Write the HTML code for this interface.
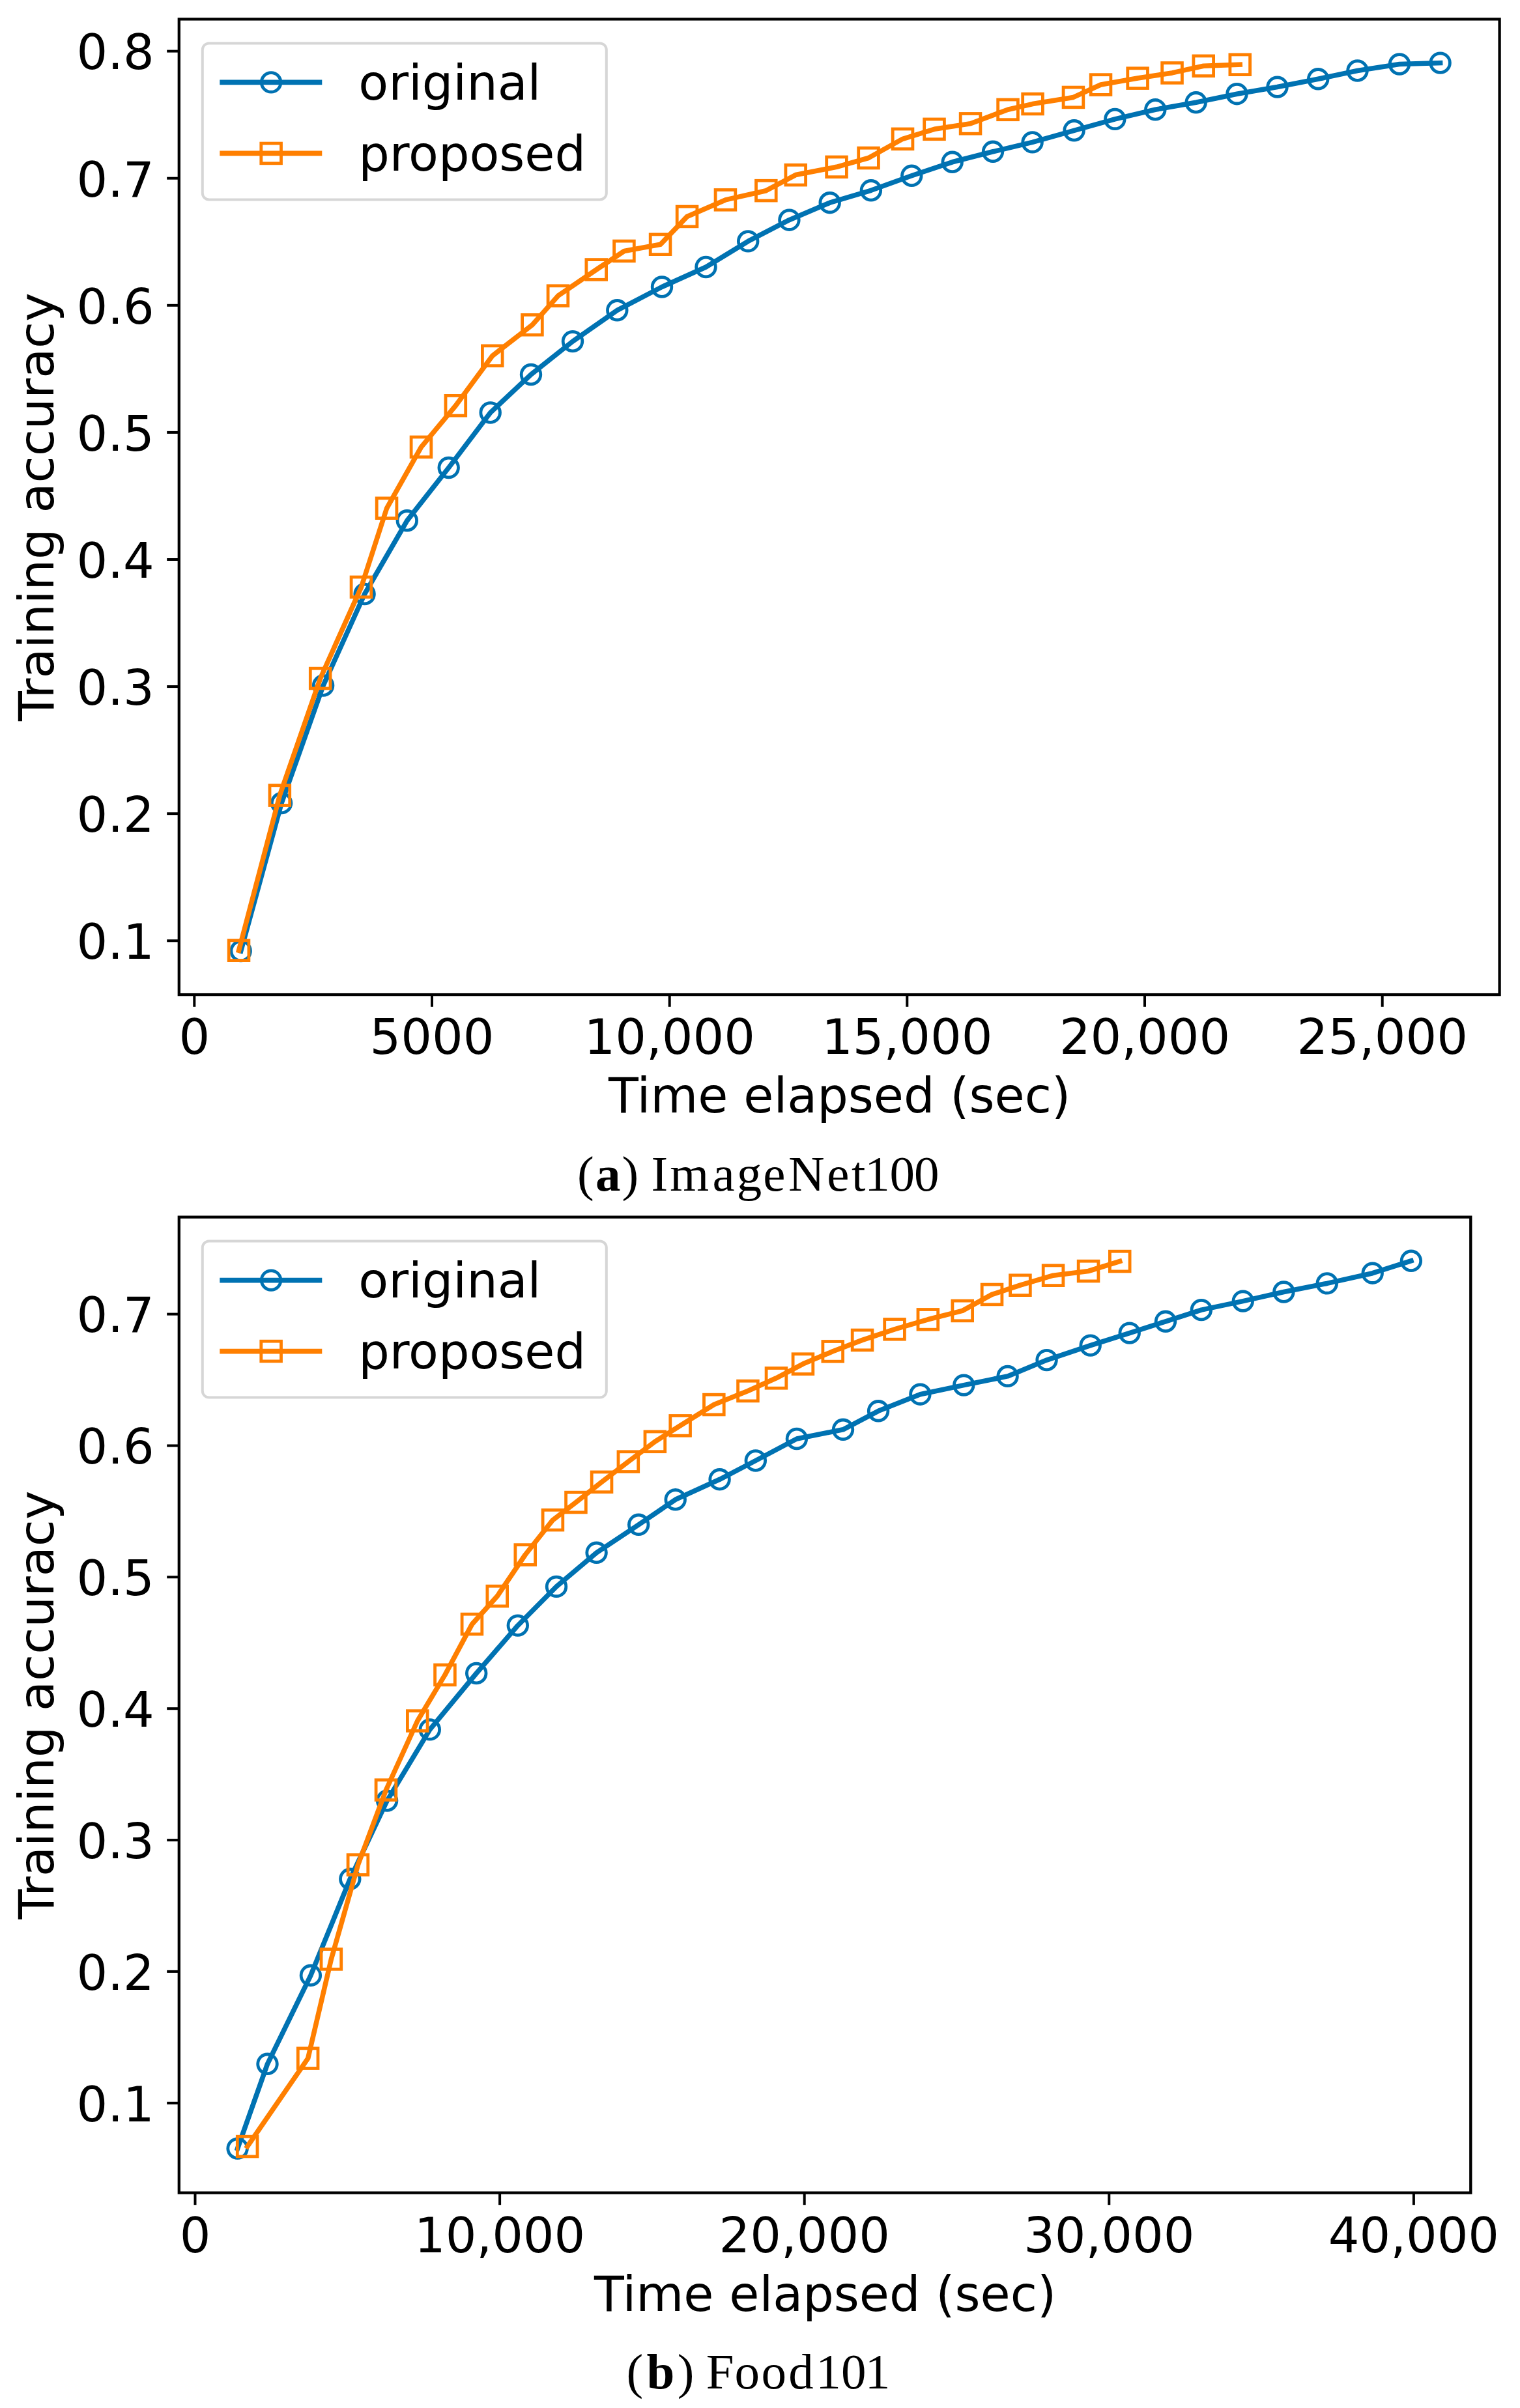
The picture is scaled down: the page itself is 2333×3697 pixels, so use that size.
<!DOCTYPE html>
<html lang="en"><head><meta charset="utf-8"><title>Training accuracy vs. time elapsed</title>
<style>
html,body{margin:0;padding:0;background:#fff}
body{width:2333px;height:3697px;overflow:hidden}
svg{display:block}
.dv{font-family:"DejaVu Sans","Liberation Sans",sans-serif;font-size:74px;fill:#000}
.cap{font-family:"Liberation Serif","DejaVu Serif",serif;font-size:77px;fill:#000}
</style></head><body>
<svg width="2333" height="3697" viewBox="0 0 2333 3697">
<rect width="2333" height="3697" fill="#fff"/>
<polyline fill="none" stroke="#0072b2" stroke-width="7.6" stroke-linejoin="round" stroke-linecap="square" points="369.7,1460 432.1,1233 496.1,1052.5 559.6,912 624.8,799.3 688.7,718 752.7,633.5 815,575 879,524.1 947.3,476.3 1016,440.5 1083.5,410 1148.2,370.4 1211.4,337.7 1273.7,311.2 1336.9,292.3 1399.3,269.8 1461.7,248.8 1524,232.8 1584.6,218.4 1648.6,200.3 1711.3,182.9 1773.3,168.3 1835.7,157.3 1898.5,144.2 1960.5,133.6 2023.2,121.3 2083.5,108.5 2148,98.5 2210.6,96.6"/>
<g fill="none" stroke="#0072b2" stroke-width="4.8"><circle cx="369.7" cy="1460" r="14.8"/><circle cx="432.1" cy="1233" r="14.8"/><circle cx="496.1" cy="1052.5" r="14.8"/><circle cx="559.6" cy="912" r="14.8"/><circle cx="624.8" cy="799.3" r="14.8"/><circle cx="688.7" cy="718" r="14.8"/><circle cx="752.7" cy="633.5" r="14.8"/><circle cx="815" cy="575" r="14.8"/><circle cx="879" cy="524.1" r="14.8"/><circle cx="947.3" cy="476.3" r="14.8"/><circle cx="1016" cy="440.5" r="14.8"/><circle cx="1083.5" cy="410" r="14.8"/><circle cx="1148.2" cy="370.4" r="14.8"/><circle cx="1211.4" cy="337.7" r="14.8"/><circle cx="1273.7" cy="311.2" r="14.8"/><circle cx="1336.9" cy="292.3" r="14.8"/><circle cx="1399.3" cy="269.8" r="14.8"/><circle cx="1461.7" cy="248.8" r="14.8"/><circle cx="1524" cy="232.8" r="14.8"/><circle cx="1584.6" cy="218.4" r="14.8"/><circle cx="1648.6" cy="200.3" r="14.8"/><circle cx="1711.3" cy="182.9" r="14.8"/><circle cx="1773.3" cy="168.3" r="14.8"/><circle cx="1835.7" cy="157.3" r="14.8"/><circle cx="1898.5" cy="144.2" r="14.8"/><circle cx="1960.5" cy="133.6" r="14.8"/><circle cx="2023.2" cy="121.3" r="14.8"/><circle cx="2083.5" cy="108.5" r="14.8"/><circle cx="2148" cy="98.5" r="14.8"/><circle cx="2210.6" cy="96.6" r="14.8"/></g>
<polyline fill="none" stroke="#ff7f00" stroke-width="7.6" stroke-linejoin="round" stroke-linecap="square" points="366.6,1459.2 429.4,1221.1 491.7,1041.5 554.5,901.4 593.6,780.3 646.5,686.4 699.4,622.8 755.8,546.2 817,498.8 856.5,454.2 915.3,414 958,385.5 1013.6,375.3 1054.6,332.5 1113.4,306.9 1175.8,292.7 1221.2,268.6 1284,256.3 1333,242.5 1385.5,213.3 1434,198.3 1489.6,189.8 1547,168.3 1585,159.6 1647.4,149.4 1689.6,130 1746.1,120.1 1799,111.9 1847.2,101.2 1903.2,99.2"/>
<g fill="none" stroke="#ff7f00" stroke-width="4.8"><rect x="351.2" y="1443.9" width="30.7" height="30.7"/><rect x="414" y="1205.8" width="30.7" height="30.7"/><rect x="476.3" y="1026.2" width="30.7" height="30.7"/><rect x="539.1" y="886" width="30.7" height="30.7"/><rect x="578.2" y="764.9" width="30.7" height="30.7"/><rect x="631.1" y="671" width="30.7" height="30.7"/><rect x="684" y="607.4" width="30.7" height="30.7"/><rect x="740.4" y="530.9" width="30.7" height="30.7"/><rect x="801.6" y="483.4" width="30.7" height="30.7"/><rect x="841.1" y="438.8" width="30.7" height="30.7"/><rect x="899.9" y="398.6" width="30.7" height="30.7"/><rect x="942.6" y="370.1" width="30.7" height="30.7"/><rect x="998.2" y="359.9" width="30.7" height="30.7"/><rect x="1039.2" y="317.1" width="30.7" height="30.7"/><rect x="1098.1" y="291.5" width="30.7" height="30.7"/><rect x="1160.5" y="277.3" width="30.7" height="30.7"/><rect x="1205.9" y="253.3" width="30.7" height="30.7"/><rect x="1268.7" y="241" width="30.7" height="30.7"/><rect x="1317.7" y="227.2" width="30.7" height="30.7"/><rect x="1370.2" y="198" width="30.7" height="30.7"/><rect x="1418.7" y="183" width="30.7" height="30.7"/><rect x="1474.2" y="174.5" width="30.7" height="30.7"/><rect x="1531.7" y="153" width="30.7" height="30.7"/><rect x="1569.7" y="144.2" width="30.7" height="30.7"/><rect x="1632.1" y="134.1" width="30.7" height="30.7"/><rect x="1674.2" y="114.7" width="30.7" height="30.7"/><rect x="1730.8" y="104.8" width="30.7" height="30.7"/><rect x="1783.7" y="96.6" width="30.7" height="30.7"/><rect x="1831.9" y="85.9" width="30.7" height="30.7"/><rect x="1887.9" y="83.9" width="30.7" height="30.7"/></g>
<g stroke="#000" stroke-width="4">
<line x1="298.3" y1="1527.1" x2="298.3" y2="1545.8"/>
<line x1="663" y1="1527.1" x2="663" y2="1545.8"/>
<line x1="1027.7" y1="1527.1" x2="1027.7" y2="1545.8"/>
<line x1="1392.3" y1="1527.1" x2="1392.3" y2="1545.8"/>
<line x1="1757" y1="1527.1" x2="1757" y2="1545.8"/>
<line x1="2121.7" y1="1527.1" x2="2121.7" y2="1545.8"/>
<line x1="256.2" y1="78.6" x2="274.8" y2="78.6"/>
<line x1="256.2" y1="273.7" x2="274.8" y2="273.7"/>
<line x1="256.2" y1="468.8" x2="274.8" y2="468.8"/>
<line x1="256.2" y1="663.9" x2="274.8" y2="663.9"/>
<line x1="256.2" y1="859" x2="274.8" y2="859"/>
<line x1="256.2" y1="1054.1" x2="274.8" y2="1054.1"/>
<line x1="256.2" y1="1249.2" x2="274.8" y2="1249.2"/>
<line x1="256.2" y1="1444.3" x2="274.8" y2="1444.3"/>
</g>
<rect x="274.8" y="29.4" width="2026.8" height="1497.7" fill="none" stroke="#000" stroke-width="4.3"/>
<g class="dv" text-anchor="middle">
<text transform="translate(298.3,1618.1) scale(1.013,1)">0</text>
<text transform="translate(663,1618.1) scale(1.013,1)">5000</text>
<text transform="translate(1027.7,1618.1) scale(1.013,1)">10,000</text>
<text transform="translate(1392.3,1618.1) scale(1.013,1)">15,000</text>
<text transform="translate(1757,1618.1) scale(1.013,1)">20,000</text>
<text transform="translate(2121.7,1618.1) scale(1.013,1)">25,000</text>
</g><g class="dv" text-anchor="end">
<text transform="translate(236.8,106.4) scale(1.013,1)">0.8</text>
<text transform="translate(236.8,301.5) scale(1.013,1)">0.7</text>
<text transform="translate(236.8,496.6) scale(1.013,1)">0.6</text>
<text transform="translate(236.8,691.7) scale(1.013,1)">0.5</text>
<text transform="translate(236.8,886.8) scale(1.013,1)">0.4</text>
<text transform="translate(236.8,1081.9) scale(1.013,1)">0.3</text>
<text transform="translate(236.8,1277) scale(1.013,1)">0.2</text>
<text transform="translate(236.8,1472.1) scale(1.013,1)">0.1</text>
</g>
<text class="dv" text-anchor="middle" transform="translate(1288.6,1708.3) scale(1.013,1)">Time elapsed (sec)</text>
<text class="dv" text-anchor="middle" transform="translate(82.3,778.2) rotate(-90) scale(1.013,1)">Training accuracy</text>
<rect x="310.8" y="66.4" width="620" height="240" rx="10" ry="10" fill="#fff" fill-opacity="0.8" stroke="#ccc" stroke-opacity="0.8" stroke-width="4"/>
<line x1="337.3" y1="126.4" x2="494.3" y2="126.4" stroke="#0072b2" stroke-width="7.6"/>
<circle cx="416.1" cy="126.4" r="14.8" fill="none" stroke="#0072b2" stroke-width="4.8"/>
<text class="dv" transform="translate(550.3,153.1) scale(1.013,1)">original</text>
<line x1="337.3" y1="235.4" x2="494.3" y2="235.4" stroke="#ff7f00" stroke-width="7.6"/>
<rect x="400.8" y="220.1" width="30.7" height="30.7" fill="none" stroke="#ff7f00" stroke-width="4.8"/>
<text class="dv" transform="translate(550.3,262.1) scale(1.013,1)">proposed</text>
<text class="cap" y="1827.5" x="885.9 913.9 954.5 985 999.6 1028.3 1093.5 1130.7 1171.2 1210 1269.2 1307 1327.3 1365.5 1403.1">(<tspan font-weight="bold">a</tspan>) ImageNet100</text>
<polyline fill="none" stroke="#0072b2" stroke-width="7.6" stroke-linejoin="round" stroke-linecap="square" points="364.6,3298.6 410.5,3168.8 476.9,3032.8 537.3,2884.8 594.1,2764.6 659.8,2655.4 731.2,2569 794.8,2495.6 854,2435.9 915.6,2383.8 980.2,2340.8 1036.7,2302.3 1104.6,2271.3 1159.8,2242.5 1222.9,2209 1294,2194.8 1348.1,2166.3 1412.4,2140.7 1479.3,2126.6 1546.6,2112.9 1606.6,2088.1 1673.7,2065.6 1733.7,2046.6 1789,2028.8 1843.9,2011.1 1907.8,1997.6 1970.4,1983.5 2036.8,1970.4 2106.7,1954.7 2165.9,1935.8"/>
<g fill="none" stroke="#0072b2" stroke-width="4.8"><circle cx="364.6" cy="3298.6" r="14.8"/><circle cx="410.5" cy="3168.8" r="14.8"/><circle cx="476.9" cy="3032.8" r="14.8"/><circle cx="537.3" cy="2884.8" r="14.8"/><circle cx="594.1" cy="2764.6" r="14.8"/><circle cx="659.8" cy="2655.4" r="14.8"/><circle cx="731.2" cy="2569" r="14.8"/><circle cx="794.8" cy="2495.6" r="14.8"/><circle cx="854" cy="2435.9" r="14.8"/><circle cx="915.6" cy="2383.8" r="14.8"/><circle cx="980.2" cy="2340.8" r="14.8"/><circle cx="1036.7" cy="2302.3" r="14.8"/><circle cx="1104.6" cy="2271.3" r="14.8"/><circle cx="1159.8" cy="2242.5" r="14.8"/><circle cx="1222.9" cy="2209" r="14.8"/><circle cx="1294" cy="2194.8" r="14.8"/><circle cx="1348.1" cy="2166.3" r="14.8"/><circle cx="1412.4" cy="2140.7" r="14.8"/><circle cx="1479.3" cy="2126.6" r="14.8"/><circle cx="1546.6" cy="2112.9" r="14.8"/><circle cx="1606.6" cy="2088.1" r="14.8"/><circle cx="1673.7" cy="2065.6" r="14.8"/><circle cx="1733.7" cy="2046.6" r="14.8"/><circle cx="1789" cy="2028.8" r="14.8"/><circle cx="1843.9" cy="2011.1" r="14.8"/><circle cx="1907.8" cy="1997.6" r="14.8"/><circle cx="1970.4" cy="1983.5" r="14.8"/><circle cx="2036.8" cy="1970.4" r="14.8"/><circle cx="2106.7" cy="1954.7" r="14.8"/><circle cx="2165.9" cy="1935.8" r="14.8"/></g>
<polyline fill="none" stroke="#ff7f00" stroke-width="7.6" stroke-linejoin="round" stroke-linecap="square" points="379.7,3295.5 472.7,3160.2 508.4,3007.9 549.5,2863 592.5,2748.2 640.8,2642 683,2571.4 724.5,2493.6 763.2,2450.6 806.2,2387 848.5,2333.7 884,2306.5 923.6,2275.3 964.4,2244.1 1005.4,2213.3 1044.1,2188.8 1095.8,2156.5 1147.9,2135.5 1191.4,2115.8 1232.4,2094.1 1278.2,2074.8 1323.6,2057.4 1373,2040.8 1424.3,2025.8 1477.2,2012.4 1522.5,1987.4 1565.9,1973.2 1616.5,1958.2 1670.6,1951.5 1718.7,1936.5"/>
<g fill="none" stroke="#ff7f00" stroke-width="4.8"><rect x="364.3" y="3280.2" width="30.7" height="30.7"/><rect x="457.3" y="3144.8" width="30.7" height="30.7"/><rect x="493" y="2992.6" width="30.7" height="30.7"/><rect x="534.1" y="2847.7" width="30.7" height="30.7"/><rect x="577.1" y="2732.8" width="30.7" height="30.7"/><rect x="625.4" y="2626.7" width="30.7" height="30.7"/><rect x="667.6" y="2556.1" width="30.7" height="30.7"/><rect x="709.1" y="2478.2" width="30.7" height="30.7"/><rect x="747.9" y="2435.2" width="30.7" height="30.7"/><rect x="790.9" y="2371.7" width="30.7" height="30.7"/><rect x="833.1" y="2318.3" width="30.7" height="30.7"/><rect x="868.6" y="2291.2" width="30.7" height="30.7"/><rect x="908.2" y="2260" width="30.7" height="30.7"/><rect x="949" y="2228.8" width="30.7" height="30.7"/><rect x="990" y="2198" width="30.7" height="30.7"/><rect x="1028.8" y="2173.5" width="30.7" height="30.7"/><rect x="1080.5" y="2141.2" width="30.7" height="30.7"/><rect x="1132.6" y="2120.2" width="30.7" height="30.7"/><rect x="1176.1" y="2100.5" width="30.7" height="30.7"/><rect x="1217.1" y="2078.8" width="30.7" height="30.7"/><rect x="1262.9" y="2059.5" width="30.7" height="30.7"/><rect x="1308.2" y="2042.1" width="30.7" height="30.7"/><rect x="1357.7" y="2025.5" width="30.7" height="30.7"/><rect x="1409" y="2010.5" width="30.7" height="30.7"/><rect x="1461.9" y="1997.1" width="30.7" height="30.7"/><rect x="1507.2" y="1972.1" width="30.7" height="30.7"/><rect x="1550.6" y="1957.9" width="30.7" height="30.7"/><rect x="1601.2" y="1942.9" width="30.7" height="30.7"/><rect x="1655.2" y="1936.2" width="30.7" height="30.7"/><rect x="1703.4" y="1921.2" width="30.7" height="30.7"/></g>
<g stroke="#000" stroke-width="4">
<line x1="299.5" y1="3366.6" x2="299.5" y2="3385.2"/>
<line x1="767.1" y1="3366.6" x2="767.1" y2="3385.2"/>
<line x1="1234.7" y1="3366.6" x2="1234.7" y2="3385.2"/>
<line x1="1702.3" y1="3366.6" x2="1702.3" y2="3385.2"/>
<line x1="2169.9" y1="3366.6" x2="2169.9" y2="3385.2"/>
<line x1="256.2" y1="2017.6" x2="274.8" y2="2017.6"/>
<line x1="256.2" y1="2219.5" x2="274.8" y2="2219.5"/>
<line x1="256.2" y1="2421.3" x2="274.8" y2="2421.3"/>
<line x1="256.2" y1="2623.2" x2="274.8" y2="2623.2"/>
<line x1="256.2" y1="2825.1" x2="274.8" y2="2825.1"/>
<line x1="256.2" y1="3026.9" x2="274.8" y2="3026.9"/>
<line x1="256.2" y1="3228.8" x2="274.8" y2="3228.8"/>
</g>
<rect x="274.8" y="1868.6" width="1982.5" height="1498" fill="none" stroke="#000" stroke-width="4.3"/>
<g class="dv" text-anchor="middle">
<text transform="translate(299.5,3457.6) scale(1.013,1)">0</text>
<text transform="translate(767.1,3457.6) scale(1.013,1)">10,000</text>
<text transform="translate(1234.7,3457.6) scale(1.013,1)">20,000</text>
<text transform="translate(1702.3,3457.6) scale(1.013,1)">30,000</text>
<text transform="translate(2169.9,3457.6) scale(1.013,1)">40,000</text>
</g><g class="dv" text-anchor="end">
<text transform="translate(236.8,2045.4) scale(1.013,1)">0.7</text>
<text transform="translate(236.8,2247.3) scale(1.013,1)">0.6</text>
<text transform="translate(236.8,2449.1) scale(1.013,1)">0.5</text>
<text transform="translate(236.8,2651) scale(1.013,1)">0.4</text>
<text transform="translate(236.8,2852.9) scale(1.013,1)">0.3</text>
<text transform="translate(236.8,3054.8) scale(1.013,1)">0.2</text>
<text transform="translate(236.8,3256.6) scale(1.013,1)">0.1</text>
</g>
<text class="dv" text-anchor="middle" transform="translate(1266.6,3547.9) scale(1.013,1)">Time elapsed (sec)</text>
<text class="dv" text-anchor="middle" transform="translate(82.3,2617.6) rotate(-90) scale(1.013,1)">Training accuracy</text>
<rect x="310.8" y="1905.6" width="620" height="240" rx="10" ry="10" fill="#fff" fill-opacity="0.8" stroke="#ccc" stroke-opacity="0.8" stroke-width="4"/>
<line x1="337.3" y1="1965.6" x2="494.3" y2="1965.6" stroke="#0072b2" stroke-width="7.6"/>
<circle cx="416.1" cy="1965.6" r="14.8" fill="none" stroke="#0072b2" stroke-width="4.8"/>
<text class="dv" transform="translate(550.3,1992.3) scale(1.013,1)">original</text>
<line x1="337.3" y1="2074.6" x2="494.3" y2="2074.6" stroke="#ff7f00" stroke-width="7.6"/>
<rect x="400.8" y="2059.2" width="30.7" height="30.7" fill="none" stroke="#ff7f00" stroke-width="4.8"/>
<text class="dv" transform="translate(550.3,2101.3) scale(1.013,1)">proposed</text>
<text class="cap" y="3667.2" x="961.5 992.5 1039.8 1070 1083.7 1127.6 1168.4 1210.2 1252.2 1291.1 1327.8">(<tspan font-weight="bold">b</tspan>) Food101</text>
</svg>
</body></html>
